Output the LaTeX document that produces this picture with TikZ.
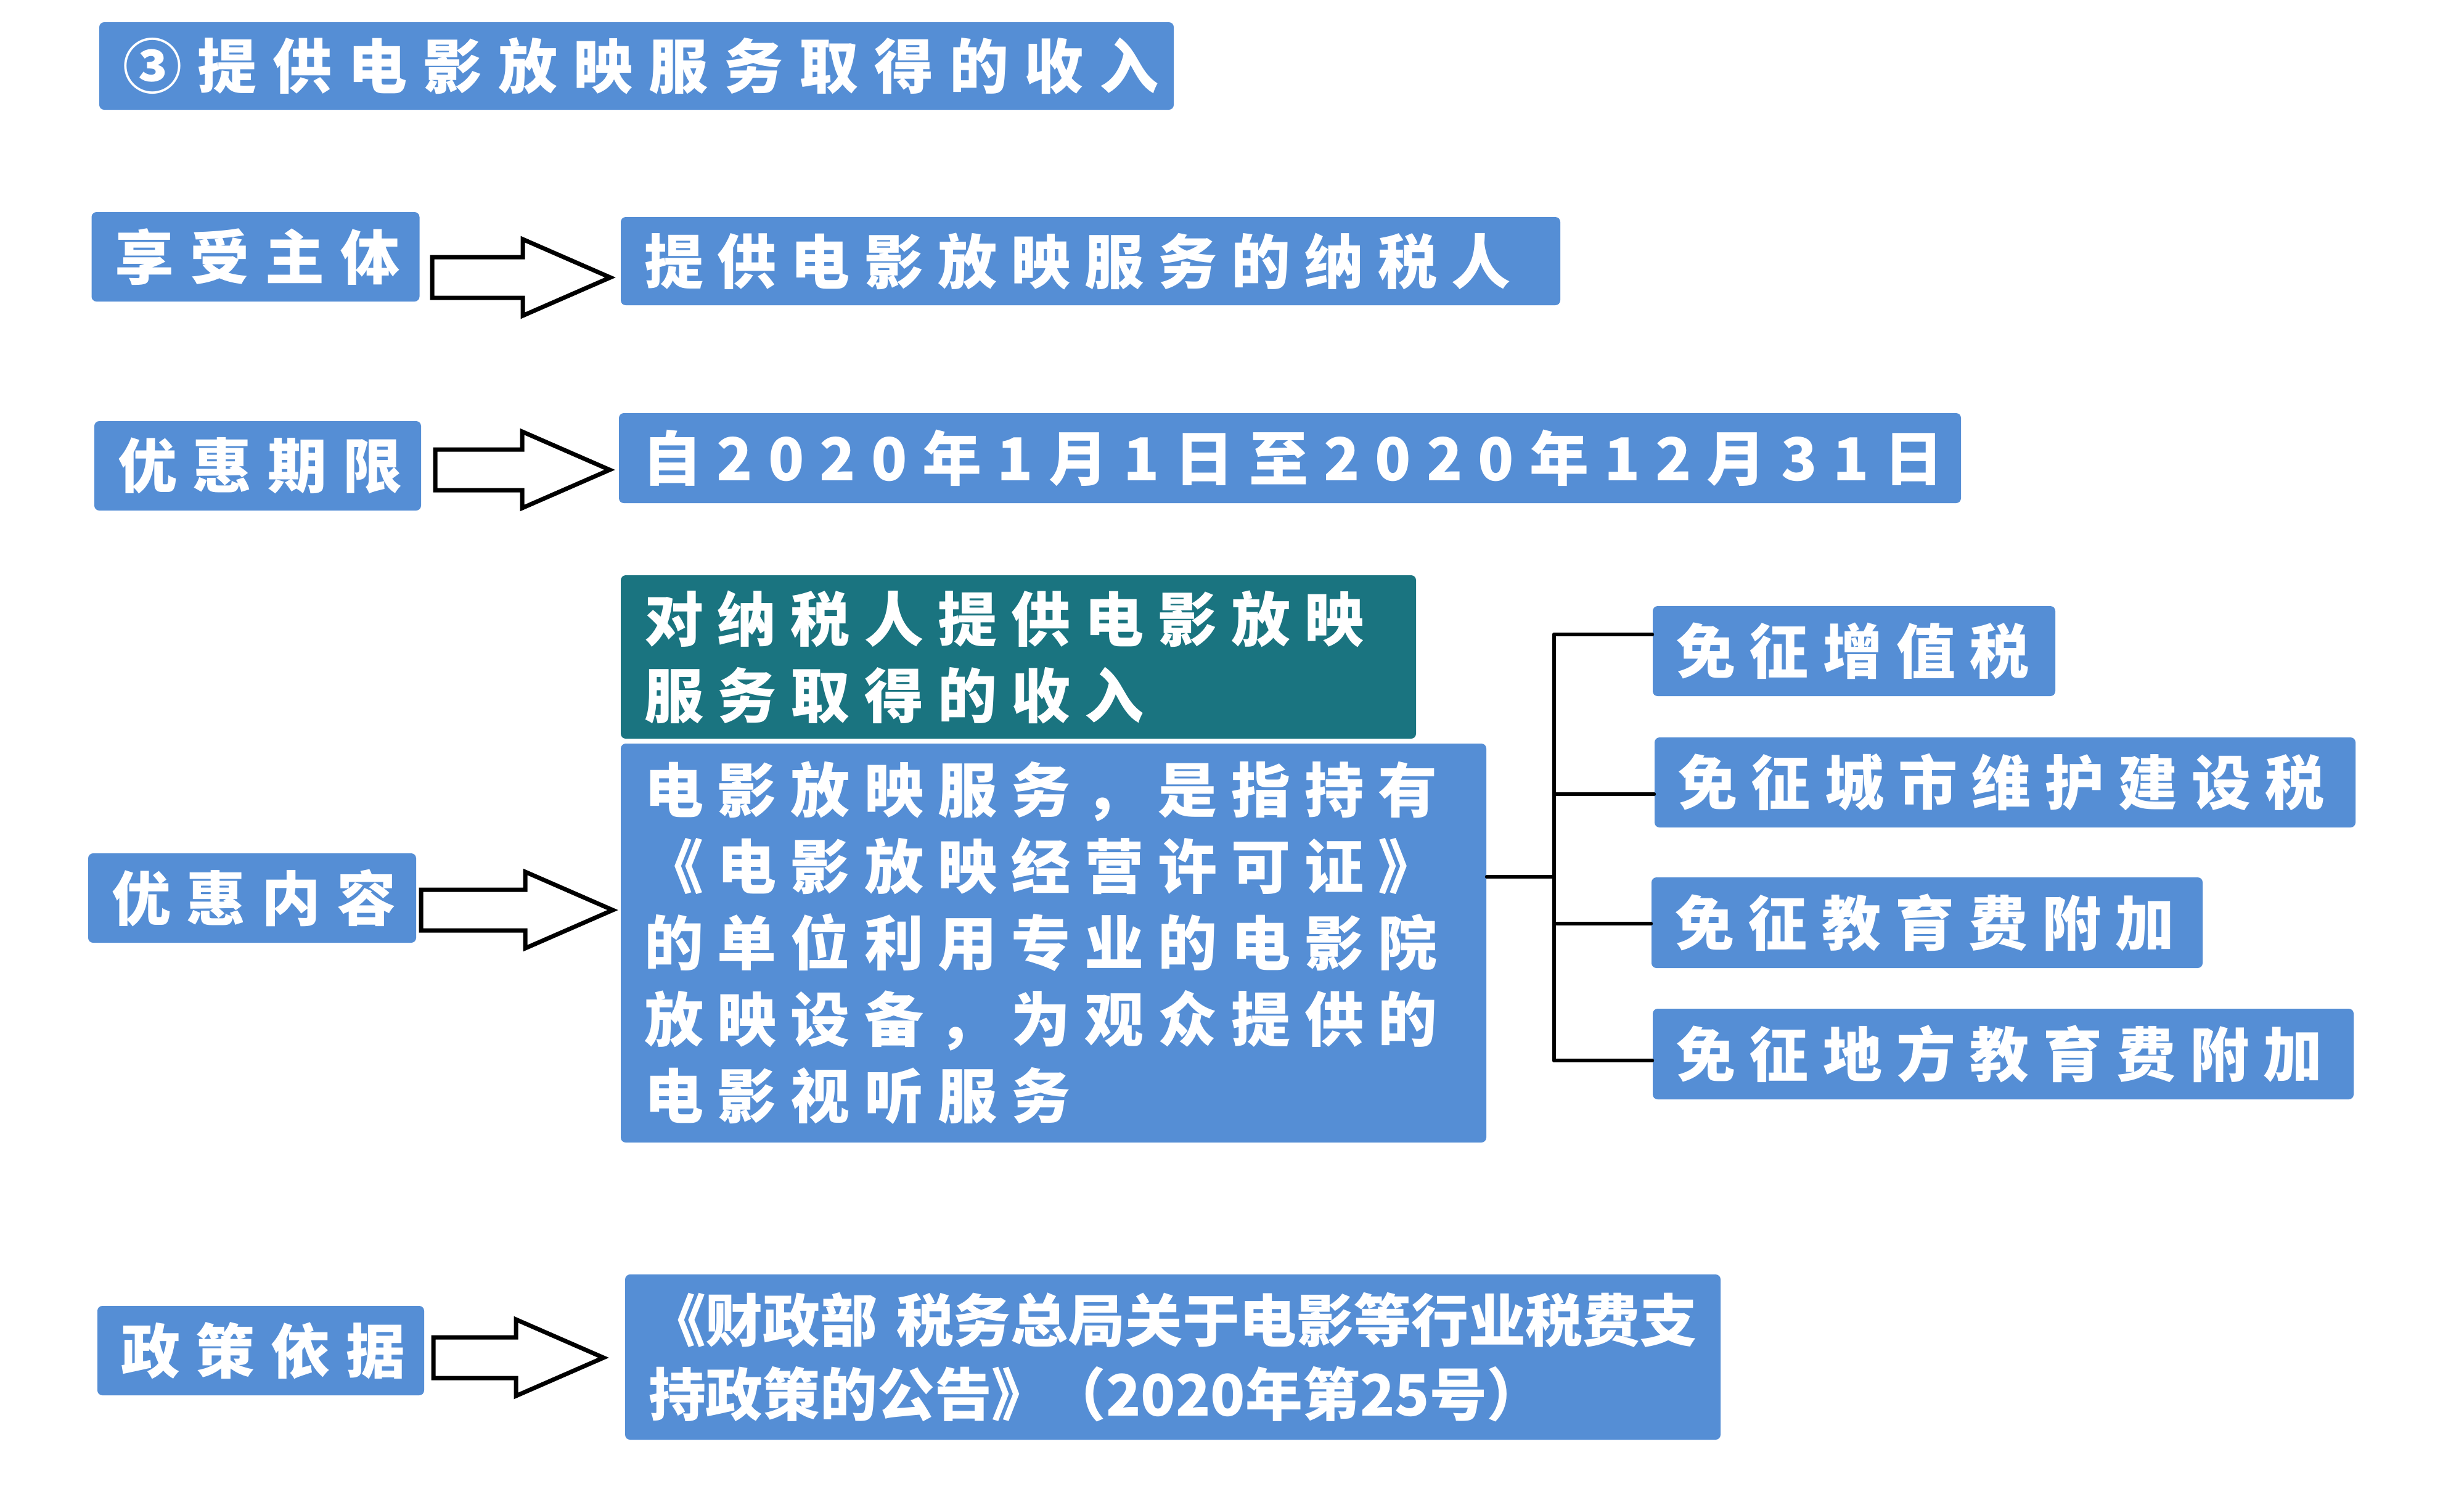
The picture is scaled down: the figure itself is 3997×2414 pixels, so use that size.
\documentclass[tikz,border=0pt]{standalone}
\usepackage{fontspec}
\newfontfamily\cjk{Noto Sans CJK SC}[LetterSpace=24]
\newfontfamily\cjkd{Noto Sans CJK SC}[LetterSpace=26]
\newfontfamily\cjkw{Noto Sans CJK SC}[LetterSpace=27]
\newfontfamily\cjkn{Noto Sans CJK SC}
\usetikzlibrary{calc}
\definecolor{boxblue}{RGB}{85,142,213}
\definecolor{boxteal}{RGB}{26,116,128}
\begin{document}
\begin{tikzpicture}[x=0.25pt,y=-0.25pt,
  box/.style={fill=boxblue, rounded corners=2pt, text=white, align=left,
    inner xsep=9.5pt, inner ysep=0pt,
    font=\cjk\bfseries\fontsize{24}{31}\selectfont},
  lab/.style={box, font=\cjkw\bfseries\fontsize{24}{31}\selectfont},
  datebox/.style={box, font=\cjkd\bfseries\fontsize{24}{31}\selectfont},
  tealbox/.style={box, fill=boxteal},
  notebox/.style={box, font=\cjkn\bfseries\fontsize{23.2}{30}\selectfont},
  blockarrow/.style={draw=black, fill=white, line width=1.75pt, line join=miter},
  conn/.style={draw=black, line width=1.5pt, line cap=round}]
\useasboundingbox[fill=white] (0,0) rectangle (3997,2414);

% header
\node[lab, text width=416.75pt, minimum height=35.5pt] (head) at (1032.5,107) {③提供电影放映服务取得的收入};

% row 2
\node[lab, text width=114pt, minimum height=36.25pt] (lab2) at (414.5,416.5) {享受主体};
\node[box, text width=362pt, minimum height=35.75pt] (box2) at (1769,423.5) {提供电影放映服务的纳税人};

% row 3
\node[lab, text width=113.5pt, minimum height=36.25pt] (lab3) at (418,755.5) {优惠期限};
\node[datebox, text width=525.25pt, minimum height=36.5pt] (box3) at (2092.5,743) {自2020年1月1日至2020年12月31日};

% row 4
\node[tealbox, text width=303.5pt, minimum height=66.25pt] (teal) at (1652,1065.5) {对纳税人提供电影放映\\服务取得的收入};
\node[box, text width=332pt, minimum height=161.75pt] (main) at (1709,1529.5) {电影放映服务，是指持有\\《电影放映经营许可证》\\的单位利用专业的电影院\\放映设备，为观众提供的\\电影视听服务};
\node[lab, text width=114pt, minimum height=36.25pt] (lab4) at (409,1456.5) {优惠内容};

\node[box, text width=144.25pt, minimum height=36.5pt] (r1) at (3007.5,1056) {免征增值税};
\node[box, text width=265.25pt, minimum height=36.5pt] (r2) at (3252.5,1269) {免征城市维护建设税};
\node[box, text width=204.5pt, minimum height=36.75pt] (r3) at (3126,1496.5) {免征教育费附加};
\node[box, text width=265.25pt, minimum height=36.75pt] (r4) at (3249.5,1709.5) {免征地方教育费附加};

% row 5
\node[lab, text width=113.5pt, minimum height=36.25pt] (lab5) at (423,2190.5) {政策依据};
\node[notebox, text width=425.25pt, minimum height=67pt] (box5) at (1902.5,2201) {《财政部 税务总局关于电影等行业税费支\\持政策的公告》（2020年第25号）};

% block arrows
\coordinate (a2s) at (701,450);  \coordinate (a2e) at (990,450);
\coordinate (a3s) at (706,762);  \coordinate (a3e) at (989,762);
\coordinate (a4s) at (683,1476); \coordinate (a4e) at (994,1476);
\coordinate (a5s) at (703,2202); \coordinate (a5e) at (979,2202);
\foreach \s/\e in {a2s/a2e,a3s/a3e,a4s/a4e,a5s/a5e}{
  \draw[blockarrow] ($(\s)+(0,-33)$) -- ($(\e)+(-142,-33)$) -- ($(\e)+(-142,-62)$) -- (\e)
    -- ($(\e)+(-142,62)$) -- ($(\e)+(-142,33)$) -- ($(\s)+(0,33)$) -- cycle;
}

% bracket
\coordinate (jn) at (2521,1422);
\coordinate (sp1) at (2521,1029);
\coordinate (sp2) at (2521,1288);
\coordinate (sp3) at (2521,1498);
\coordinate (sp4) at (2521,1720);
\draw[conn] (main.east |- jn) -- (jn);
\draw[conn] (sp1) -- (sp4);
\draw[conn] (sp1) -- (r1.west |- sp1);
\draw[conn] (sp2) -- (r2.west |- sp2);
\draw[conn] (sp3) -- (r3.west |- sp3);
\draw[conn] (sp4) -- (r4.west |- sp4);
\end{tikzpicture}
\end{document}
